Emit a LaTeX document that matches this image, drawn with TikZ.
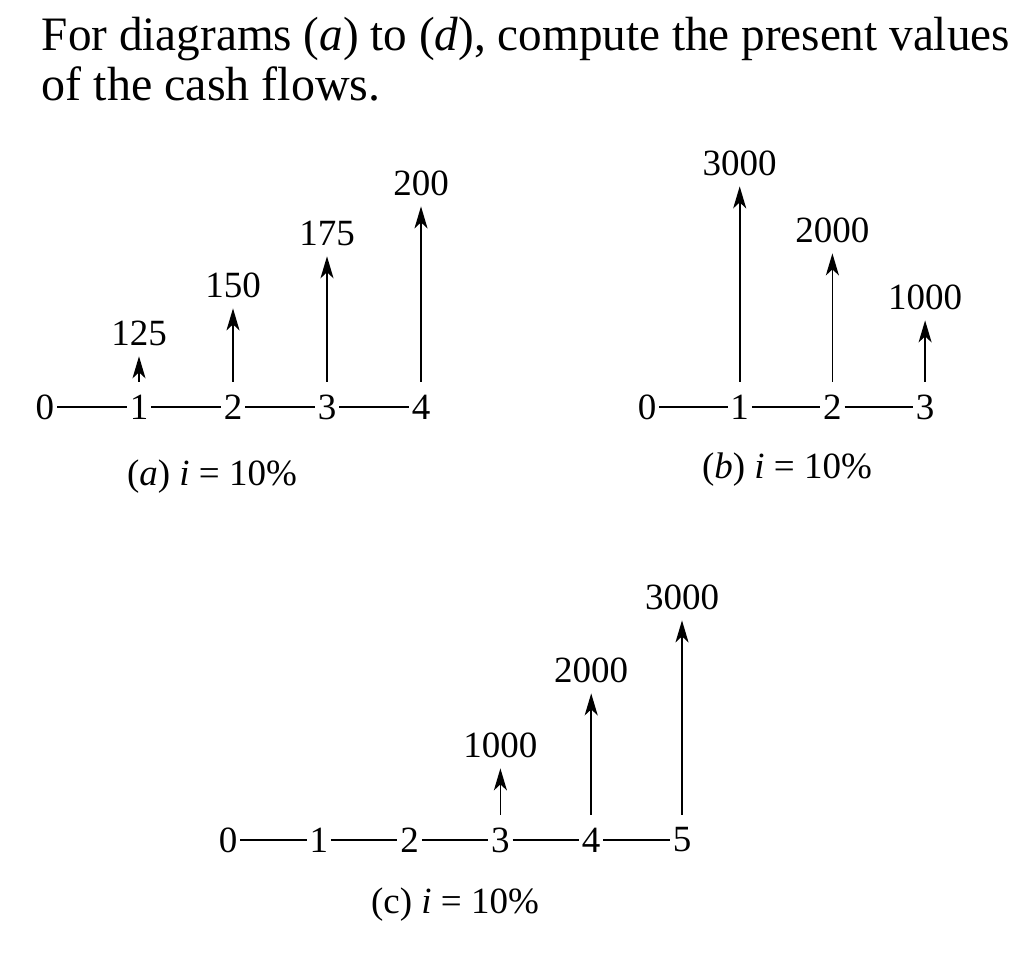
\documentclass[tikz,border=0pt]{standalone}
\usepackage{fontspec}
\setmainfont{Liberation Serif}
\usetikzlibrary{arrows.meta}
\tikzset{
	tick/.style={inner sep=1pt},
	amount/.style={inner sep=5pt},
	flow/.style={-{Stealth[length=11pt,width=6.5pt,inset=3pt]}},
	headline/.style={anchor=base west,inner sep=0pt,font=\fontsize{24}{28}\selectfont},
}
\begin{document}
\begin{tikzpicture}[x=0.5pt,y=-0.5pt,line width=0.9pt,font=\fontsize{18.5}{22}\selectfont]
	\useasboundingbox (0,0) rectangle (1024,980);
	\node[headline] (title1) at (41,50) {\resizebox{484pt}{\height}{For diagrams (\textit{a}) to (\textit{d}), compute the present values}};
	\node[headline] (title2) at (41,100) {of the cash flows.};

	% (a)
	\foreach \t in {0,...,4}
	\node[tick] (a\t) at ({45+94*\t},407) {\t};
	\foreach \t [count=\s from 1] in {0,...,3}
	\draw (a\t) -- (a\s);
	\foreach \t/\v/\y in {1/125/333, 2/150/285, 3/175/233, 4/200/183} {
	  \node[amount] (av\t) at (a\t |- 0,\y) {\v};
	  \draw[flow] ([yshift=5pt]a\t.north) -- (av\t);
	}
	\node[anchor=base] (capa) at (212,485) {(\textit{a}) \textit{i} = 10\%};

	% (b)
	\foreach \t in {0,...,3}
	\node[tick] (b\t) at ({647+92.7*\t},407) {\t};
	\foreach \t [count=\s from 1] in {0,...,2}
	\draw (b\t) -- (b\s);
	\foreach \t/\v/\y in {1/3000/163, 2/2000/230, 3/1000/297} {
	  \node[amount] (bv\t) at (b\t |- 0,\y) {\v};
	  \draw[flow] ([yshift=5pt]b\t.north) -- (bv\t);
	}
	\node[anchor=base] (capb) at (787,478) {(\textit{b}) \textit{i} = 10\%};

	% (c)
	\foreach \t in {0,...,5}
	\node[tick] (c\t) at ({228+90.8*\t},840) {\t};
	\foreach \t [count=\s from 1] in {0,...,4}
	\draw (c\t) -- (c\s);
	\foreach \t/\v/\y in {3/1000/745, 4/2000/670, 5/3000/597} {
	  \node[amount] (cv\t) at (c\t |- 0,\y) {\v};
	  \draw[flow] ([yshift=5pt]c\t.north) -- (cv\t);
	}
	\node[anchor=base] (capc) at (455,913) {(c) \textit{i} = 10\%};
\end{tikzpicture}
\end{document}
